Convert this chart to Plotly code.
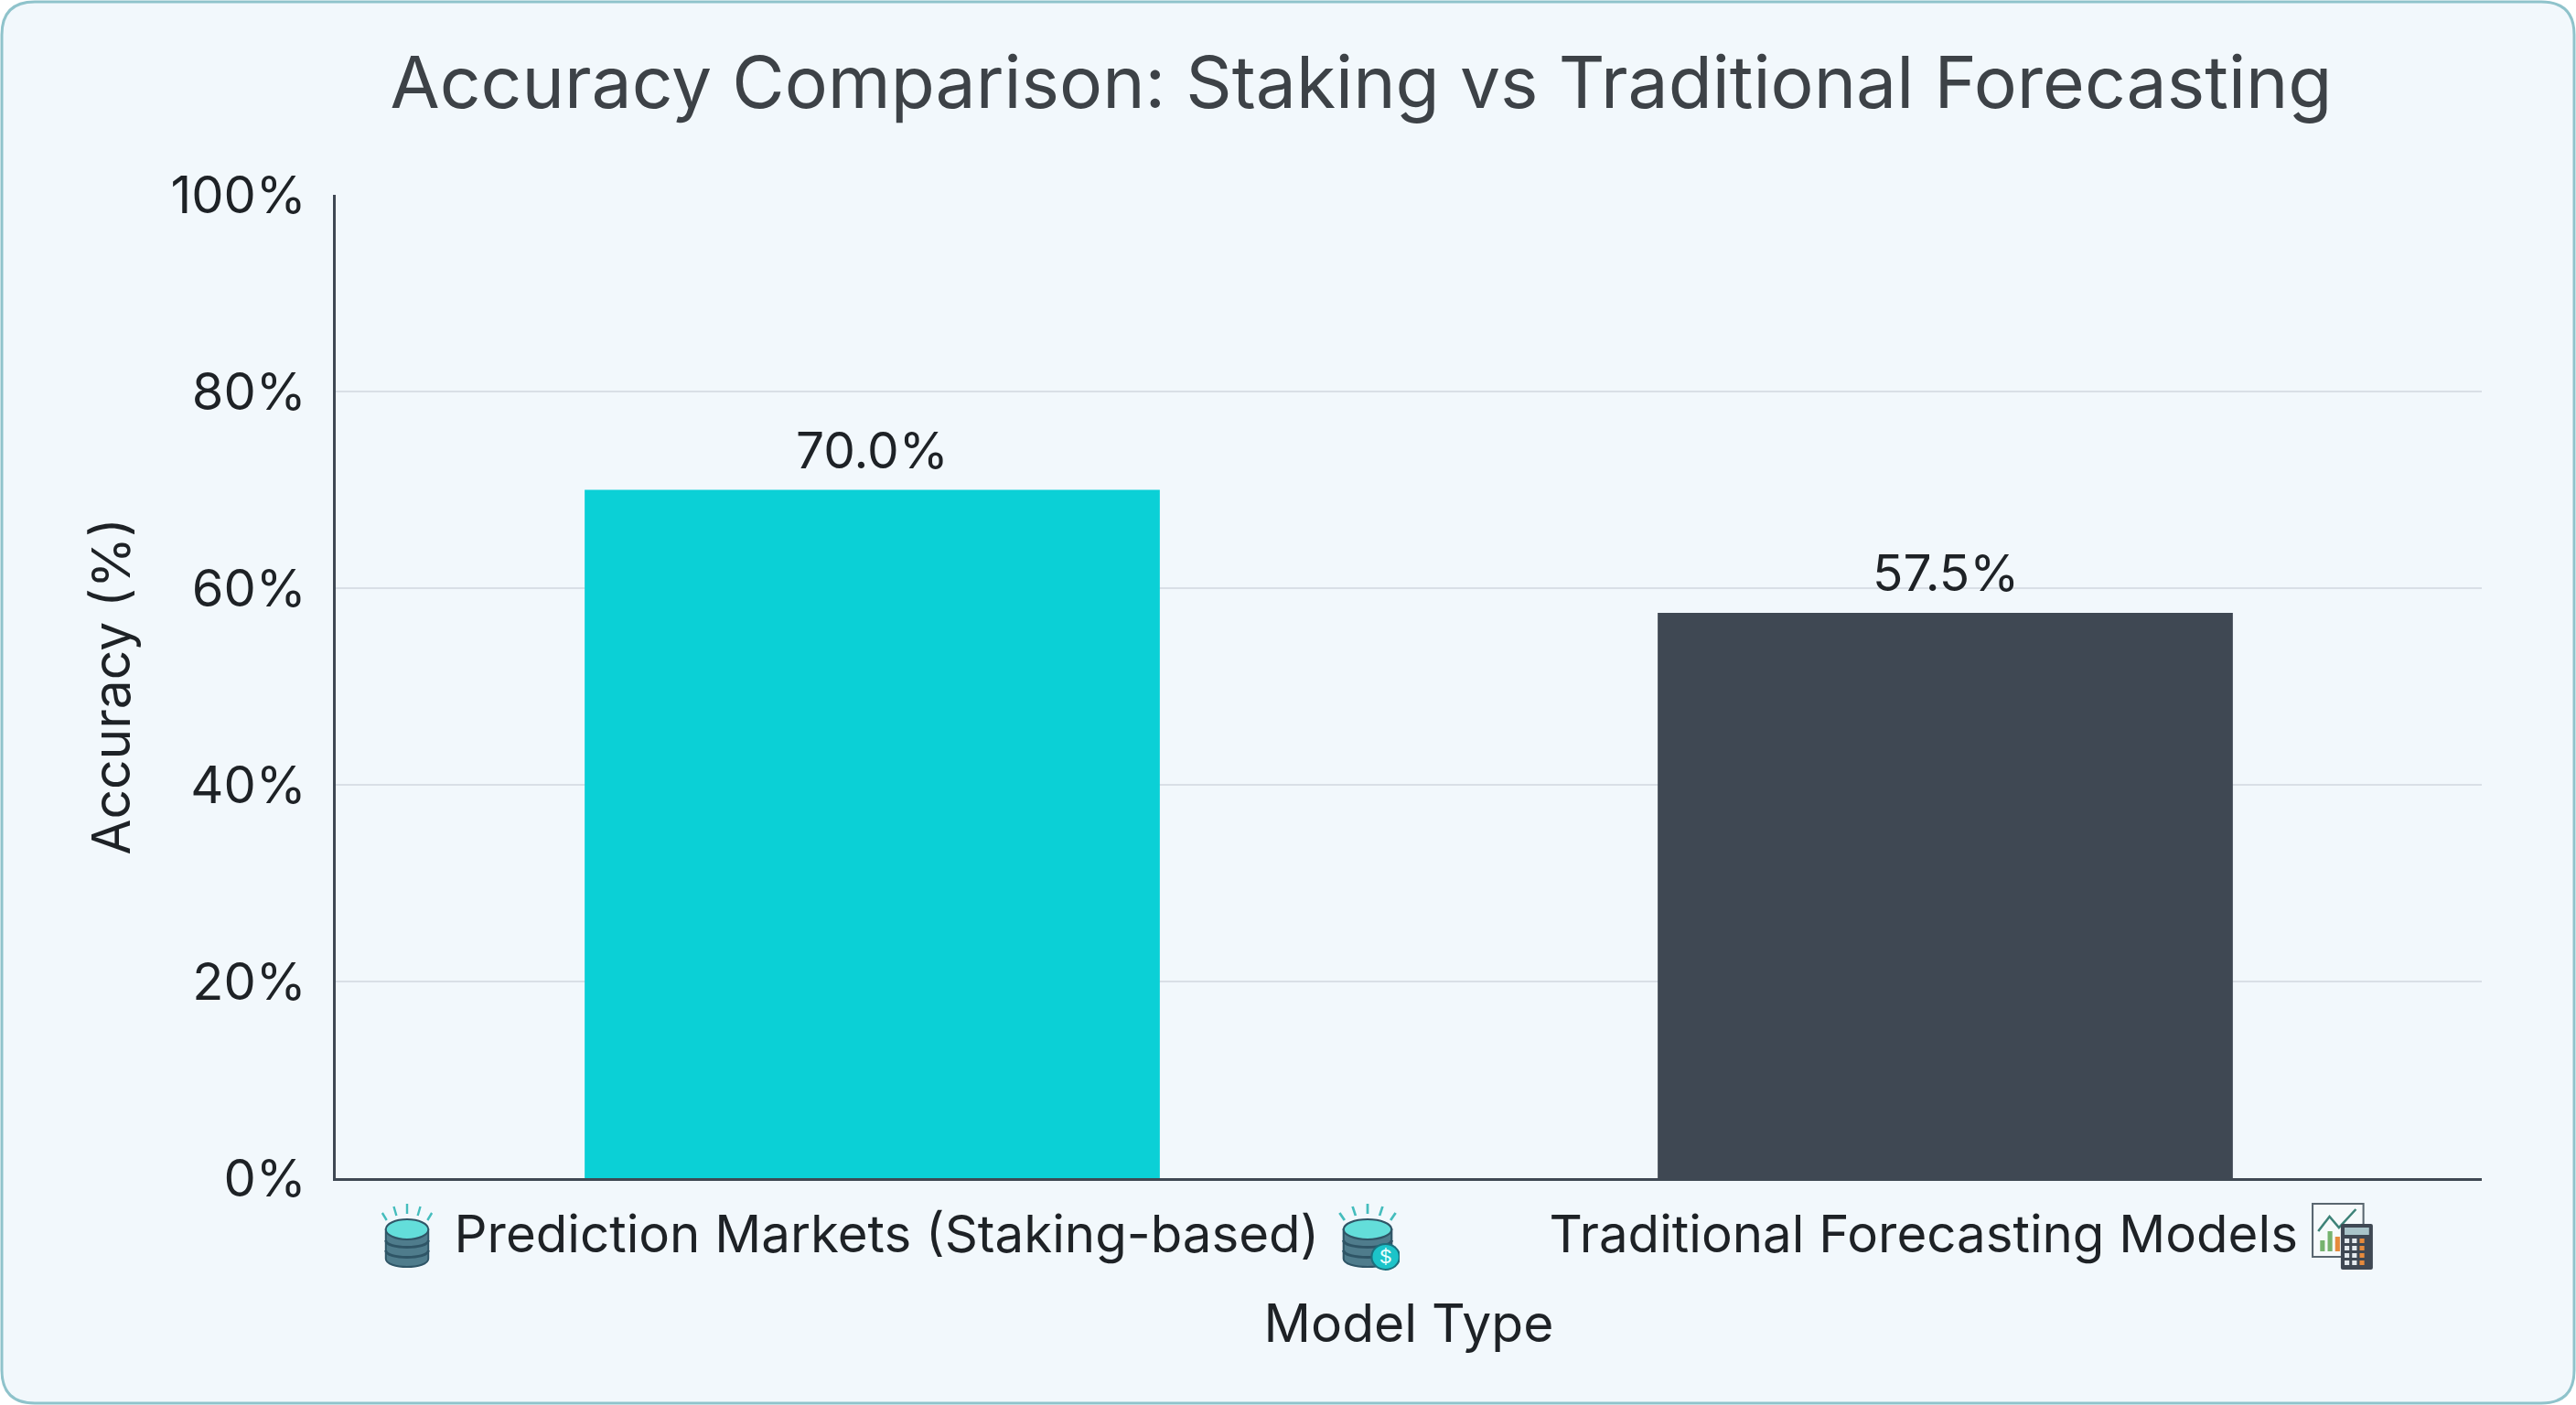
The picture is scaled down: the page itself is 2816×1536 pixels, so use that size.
import base64
import plotly.graph_objects as go

W, H = 2816, 1536
L, R, T, B = 367, 2713, 213, 1288

categories = ["Prediction Markets (Staking-based)", "Traditional Forecasting Models"]
accuracy = [70.0, 57.5]
bar_colors = ["#0BD0D6", "#3F4853"]
value_labels = ["70.0%", "57.5%"]
y_ticks = [0, 20, 40, 60, 80, 100]
y_tick_labels = ["0%", "20%", "40%", "60%", "80%", "100%"]
NB = "\u00a0"
tick_text = [NB * 2 + categories[0], categories[1] + NB * 3]


def uri(svg):
    return "data:image/svg+xml;base64," + base64.b64encode(svg.encode()).decode()


def stack(cx_extra=""):
    s = '<svg xmlns="http://www.w3.org/2000/svg" viewBox="0 0 64 76">'
    s += '<path d="M8 30v32c0 12 48 12 48 0V30z" fill="#4F7C8C" stroke="#2F5566" stroke-width="2"/>'
    s += '<path d="M8 42c0 10 48 10 48 0M8 53c0 10 48 10 48 0" fill="none" stroke="#2F5566" stroke-width="3"/>'
    s += '<ellipse cx="32" cy="30" rx="24" ry="11" fill="#63DEDA" stroke="#2F5566" stroke-width="2"/>'
    s += '<path d="M32 2v11M17 5l3 10M47 5l-3 10M4 12l5 8M60 12l-5 8" stroke="#45BDBD" stroke-width="2.5"/>'
    s += cx_extra + "</svg>"
    return s


coin = ('<circle cx="50" cy="60" r="14" fill="#1CC4C9" stroke="#1C6F7C" stroke-width="2"/>'
        '<text x="50" y="67" font-size="20" text-anchor="middle" fill="#E8FFFF" font-family="Inter">$</text>')

calc_keys = "".join(
    f'<rect x="{36 + c * 8}" y="{40 + r * 8}" width="5" height="5" fill="{"#E58A3C" if c == 2 else "#E4EAEE"}"/>'
    for r in range(4) for c in range(3))
calc = ('<svg xmlns="http://www.w3.org/2000/svg" viewBox="0 0 70 76">'
        '<rect x="2" y="2" width="54" height="58" fill="#F6FAFB" stroke="#59666F" stroke-width="2"/>'
        '<path d="M8 32l12-16 10 12 18-20" fill="none" stroke="#3E8378" stroke-width="2.5"/>'
        '<rect x="10" y="42" width="5" height="12" fill="#76B36F"/><rect x="18" y="32" width="5" height="22" fill="#76B36F"/>'
        '<rect x="26" y="38" width="5" height="16" fill="#E58A3C"/>'
        '<rect x="32" y="24" width="34" height="50" rx="2" fill="#3F4853"/>'
        '<rect x="36" y="28" width="26" height="8" fill="#A9C4C9"/>' + calc_keys + '</svg>')

spark = ('<svg xmlns="http://www.w3.org/2000/svg" viewBox="0 0 100 100">'
         '<path d="M50 0C54 34 66 46 100 50C66 54 54 66 50 100C46 66 34 54 0 50C34 46 46 34 50 0z" fill="#FFFFFF" fill-opacity="0.75"/></svg>')


def px(x0, y0, w, h, source, layer="above"):
    return dict(source=source, xref="paper", yref="paper",
                x=(x0 - L) / (R - L), y=(B - y0) / (B - T),
                sizex=w / (R - L), sizey=h / (B - T),
                xanchor="left", yanchor="top", sizing="stretch", layer=layer)


images = [
    px(414, 1314, 62, 76, uri(stack())),
    px(1460, 1314, 70, 76, uri(stack(coin))),
    px(2526, 1314, 72, 76, uri(calc)),
    px(2652, 1375, 100, 125, uri(spark), layer="below"),
]

fig = go.Figure(go.Bar(
    x=[0, 1], y=accuracy, marker=dict(color=bar_colors, line_width=0), width=0.536,
))

annotations = [
    dict(x=i, y=v, text=t, xref="x", yref="y", showarrow=False, yanchor="bottom", yshift=9,
         font=dict(family="Inter", size=55, color="#1E2226"))
    for i, (v, t) in enumerate(zip(accuracy, value_labels))
]


def X(p):
    return (p - L) / (R - L)


def Y(p):
    return (B - p) / (B - T)


r = 36
border = (f"M {X(2)} {Y(2 + r)} Q {X(2)} {Y(2)} {X(2 + r)} {Y(2)} L {X(W - 2 - r)} {Y(2)} "
          f"Q {X(W - 2)} {Y(2)} {X(W - 2)} {Y(2 + r)} L {X(W - 2)} {Y(H - 2 - r)} "
          f"Q {X(W - 2)} {Y(H - 2)} {X(W - 2 - r)} {Y(H - 2)} L {X(2 + r)} {Y(H - 2)} "
          f"Q {X(2)} {Y(H - 2)} {X(2)} {Y(H - 2 - r)} Z")

fig.update_layout(
    width=W, height=H, autosize=False,
    margin=dict(l=L, r=W - R, t=T, b=H - B),
    paper_bgcolor="#FFFFFF", plot_bgcolor="rgba(0,0,0,0)",
    showlegend=False,
    annotations=annotations,
    title=dict(text="Accuracy Comparison: Staking vs Traditional Forecasting",
               font=dict(family="Inter", size=78.6, color="#3D4247"),
               x=1488 / W, xanchor="center", y=1 - 90 / H, yanchor="middle"),
    font=dict(family="Inter", color="#1E2226"),
    shapes=[dict(type="path", path=border, xref="paper", yref="paper", layer="below",
                 fillcolor="#F2F8FC", line=dict(color="#8FC3CB", width=3))],
    images=images,
    xaxis=dict(tickmode="array", tickvals=[0, 1], ticktext=tick_text, range=[-0.5, 1.5],
               tickfont=dict(family="Inter", size=56.4, color="#1E2226"),
               ticks="", showgrid=False, zeroline=False, ticklabelstandoff=10,
               showline=True, linecolor="#3F4853", linewidth=3,
               title=dict(text="Model Type", standoff=46,
                          font=dict(family="Inter", size=57, color="#1E2226"))),
    yaxis=dict(tickmode="array", tickvals=y_ticks, ticktext=y_tick_labels, range=[0, 100],
               tickfont=dict(family="Inter", size=56, color="#1E2226"),
               ticks="", showgrid=True, gridcolor="#D9DFE6", gridwidth=2, zeroline=False,
               ticklabelstandoff=18,
               showline=True, linecolor="#3F4853", linewidth=3,
               title=dict(text="Accuracy (%)", standoff=26,
                          font=dict(family="Inter", size=57, color="#1E2226"))),
)
fig.write_html("out.html", config={"displayModeBar": False},
               post_script="document.body.style.margin='0';")
